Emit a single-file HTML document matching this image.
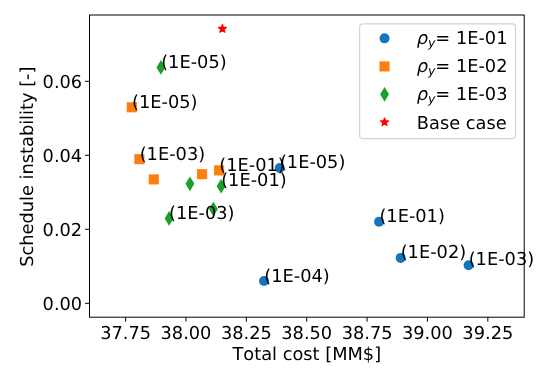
<!DOCTYPE html>
<html><head><meta charset="utf-8"><title>Schedule instability vs total cost</title>
<style>
html,body{margin:0;padding:0;background:#fff;}
svg{display:block;}
text{font-family:"DejaVu Sans","Liberation Sans",sans-serif;font-size:17.8px;fill:#000;font-kerning:none;text-rendering:geometricPrecision;}
.it{font-style:italic;}
</style></head><body>
<svg width="550" height="376" viewBox="0 0 550 376">
<rect x="0" y="0" width="550" height="376" fill="#ffffff"/>

<g id="markers">
<circle cx="279.7" cy="168.0" r="5.0" fill="#1376ba"/>
<circle cx="379.1" cy="221.7" r="5.0" fill="#1376ba"/>
<circle cx="400.7" cy="257.9" r="5.0" fill="#1376ba"/>
<circle cx="468.6" cy="265.2" r="5.0" fill="#1376ba"/>
<circle cx="264.0" cy="281.0" r="5.0" fill="#1376ba"/>
<rect x="126.75" y="102.25" width="10.10" height="10.10" fill="#ff7f0e"/>
<rect x="134.35" y="154.15" width="10.10" height="10.10" fill="#ff7f0e"/>
<rect x="148.75" y="174.35" width="10.10" height="10.10" fill="#ff7f0e"/>
<rect x="197.05" y="169.15" width="10.10" height="10.10" fill="#ff7f0e"/>
<rect x="214.05" y="165.35" width="10.10" height="10.10" fill="#ff7f0e"/>
<path d="M160.90,61.85 L164.23,67.40 L160.90,72.95 L157.57,67.40Z" fill="#1aa02a" stroke="#1aa02a" stroke-width="1.9" stroke-linejoin="miter" stroke-miterlimit="10"/>
<path d="M189.90,178.25 L193.23,183.80 L189.90,189.35 L186.57,183.80Z" fill="#1aa02a" stroke="#1aa02a" stroke-width="1.9" stroke-linejoin="miter" stroke-miterlimit="10"/>
<path d="M221.10,180.65 L224.43,186.20 L221.10,191.75 L217.77,186.20Z" fill="#1aa02a" stroke="#1aa02a" stroke-width="1.9" stroke-linejoin="miter" stroke-miterlimit="10"/>
<path d="M213.40,203.45 L216.73,209.00 L213.40,214.55 L210.07,209.00Z" fill="#1aa02a" stroke="#1aa02a" stroke-width="1.9" stroke-linejoin="miter" stroke-miterlimit="10"/>
<path d="M169.10,212.85 L172.43,218.40 L169.10,223.95 L165.77,218.40Z" fill="#1aa02a" stroke="#1aa02a" stroke-width="1.9" stroke-linejoin="miter" stroke-miterlimit="10"/>
<path d="M222.40,24.65 L223.33,27.52 L226.35,27.52 L223.91,29.29 L224.84,32.16 L222.40,30.39 L219.96,32.16 L220.89,29.29 L218.45,27.52 L221.47,27.52Z" fill="#ff0000" stroke="#ff0000" stroke-width="1.3" stroke-linejoin="round"/>
</g>
<rect x="89.5" y="15.0" width="434.70" height="302.20" fill="none" stroke="#000" stroke-width="1.0"/>
<g id="ticks" stroke="#000" stroke-width="1.0">
<line x1="125.60" y1="317.2" x2="125.60" y2="321.65"/>
<line x1="185.97" y1="317.2" x2="185.97" y2="321.65"/>
<line x1="246.34" y1="317.2" x2="246.34" y2="321.65"/>
<line x1="306.71" y1="317.2" x2="306.71" y2="321.65"/>
<line x1="367.08" y1="317.2" x2="367.08" y2="321.65"/>
<line x1="427.45" y1="317.2" x2="427.45" y2="321.65"/>
<line x1="487.82" y1="317.2" x2="487.82" y2="321.65"/>
<line x1="89.5" y1="303.30" x2="85.05" y2="303.30"/>
<line x1="89.5" y1="229.30" x2="85.05" y2="229.30"/>
<line x1="89.5" y1="155.30" x2="85.05" y2="155.30"/>
<line x1="89.5" y1="81.30" x2="85.05" y2="81.30"/>
</g>
<g id="xticklabels" text-anchor="middle">
<text x="125.60" y="339.3">37.75</text>
<text x="185.97" y="339.3">38.00</text>
<text x="246.34" y="339.3">38.25</text>
<text x="306.71" y="339.3">38.50</text>
<text x="367.08" y="339.3">38.75</text>
<text x="427.45" y="339.3">39.00</text>
<text x="487.82" y="339.3">39.25</text>
</g>
<g id="yticklabels" text-anchor="end">
<text x="82.20" y="310.20">0.00</text>
<text x="82.20" y="236.20">0.02</text>
<text x="82.20" y="162.20">0.04</text>
<text x="82.20" y="88.20">0.06</text>
</g>
<text x="306.8" y="359.9" text-anchor="middle">Total cost [MM$]</text>
<text transform="translate(33.3,166.7) rotate(-90)" text-anchor="middle">Schedule instability [-]</text>
<g id="annotations">
<text x="279.90" y="167.60">(1E-05)</text>
<text x="379.40" y="222.10">(1E-01)</text>
<text x="400.70" y="257.80">(1E-02)</text>
<text x="468.70" y="265.30">(1E-03)</text>
<text x="264.30" y="281.80">(1E-04)</text>
<text x="132.10" y="107.70">(1E-05)</text>
<text x="139.70" y="159.60">(1E-03)</text>
<text x="219.30" y="170.50">(1E-01)</text>
<text x="161.20" y="67.80">(1E-05)</text>
<text x="221.20" y="186.30">(1E-01)</text>
<text x="169.10" y="218.50">(1E-03)</text>
</g>
<g id="legend">
<rect x="359.6" y="23.9" width="155.9" height="114.6" rx="3.2" ry="3.2" fill="#ffffff" fill-opacity="0.8" stroke="#d4d4d4" stroke-width="1.25"/>
<circle cx="384.55" cy="38.35" r="5.0" fill="#1376ba"/>
<rect x="379.50" y="61.35" width="10.10" height="10.10" fill="#ff7f0e"/>
<path d="M384.55,88.75 L387.88,94.30 L384.55,99.85 L381.22,94.30Z" fill="#1aa02a" stroke="#1aa02a" stroke-width="1.9" stroke-linejoin="miter" stroke-miterlimit="10"/>
<path d="M384.55,118.05 L385.48,120.92 L388.50,120.92 L386.06,122.69 L386.99,125.56 L384.55,123.79 L382.11,125.56 L383.04,122.69 L380.60,120.92 L383.62,120.92Z" fill="#ff0000" stroke="#ff0000" stroke-width="1.3" stroke-linejoin="round"/>
<text x="416.7" y="44.30" xml:space="preserve"><tspan class="it">ρ</tspan><tspan class="it" font-size="12.46" dy="2.8">y</tspan><tspan dy="-2.8">= 1E-01</tspan></text>
<text x="416.7" y="72.10" xml:space="preserve"><tspan class="it">ρ</tspan><tspan class="it" font-size="12.46" dy="2.8">y</tspan><tspan dy="-2.8">= 1E-02</tspan></text>
<text x="416.7" y="100.00" xml:space="preserve"><tspan class="it">ρ</tspan><tspan class="it" font-size="12.46" dy="2.8">y</tspan><tspan dy="-2.8">= 1E-03</tspan></text>
<text x="416.8" y="128.60">Base case</text>
</g>
</svg></body></html>
